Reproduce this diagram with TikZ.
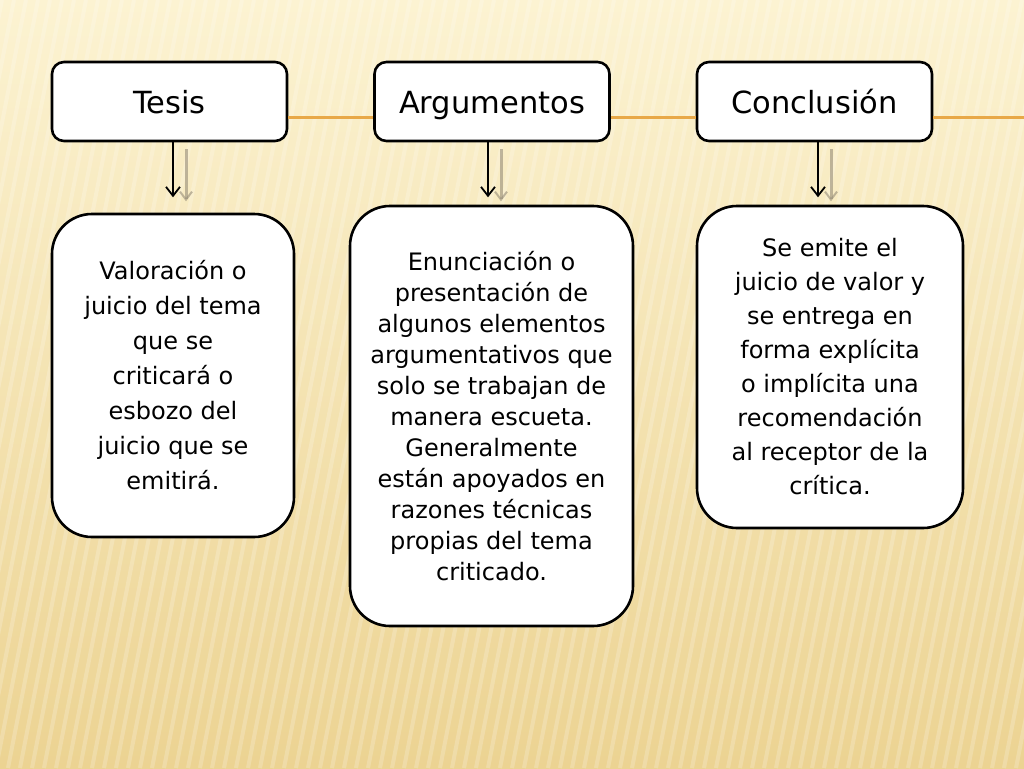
\documentclass[tikz,border=0pt]{standalone}
\usepackage{fontspec}
\setmainfont{DejaVu Sans}
\usetikzlibrary{arrows.meta}

\definecolor{paperTop}{RGB}{252,243,210}
\definecolor{paperBot}{RGB}{236,211,146}
\definecolor{ruleOrange}{RGB}{232,168,72}
\definecolor{shade}{RGB}{150,140,120}

\tikzset{
	head/.style={draw=black, line width=2.6pt, fill=white, rounded corners=12pt,
		minimum width=235pt, minimum height=79pt, inner sep=0pt,
		text height=28pt, text depth=4pt,
		font=\fontsize{30.5}{36}\selectfont},
	card/.style={draw=black, line width=2.6pt, fill=white, rounded corners=40pt,
		align=center, inner sep=0pt, font=\fontsize{24}{#1}\selectfont},
	card/.default=34,
	flow/.style={line width=1.8pt, -{Straight Barb[length=9pt,width=14pt,line width=1.8pt]}},
	ghost/.style={line width=3pt, draw=shade, opacity=0.6,
		-{Straight Barb[length=8pt,width=12pt,line width=2pt]}},
	stripe/.style={draw=white, line width=4pt, opacity=0.2},
	band/.style={draw=ruleOrange, line width=2.4pt}
}

\begin{document}
\begin{tikzpicture}[x=1pt,y=-1pt]
	\useasboundingbox (0,0) rectangle (1024,768);
	% background
	\fill[top color=paperTop, bottom color=paperBot] (0,0) rectangle (1024,768);
	\begin{scope}
		\clip (0,0) rectangle (1024,768);
		\foreach \x in {-160,-148,...,1030}
			\draw[stripe] (\x,768) -- (\x+150,0);
	\end{scope}

	% headings
	\node[head] at (169.5,101.5) (tesis) {Tesis};
	\node[head] at (492,101.5) (argum) {Argumentos};
	\node[head] at (814.5,101.5) (concl) {Conclusión};

	% orange rule
	\draw[band] ([yshift=-16pt]tesis.east) -- ([yshift=-16pt]argum.west);
	\draw[band] ([yshift=-16pt]argum.east) -- ([yshift=-16pt]concl.west);
	\coordinate (ruleEnd) at (1024,117.5);
	\draw[band] ([yshift=-16pt]concl.east) -- (ruleEnd);

	% cards
	\node[card=35, minimum width=242pt, minimum height=323pt] at (173,375.5) (valor)
		{Valoración o\\juicio del tema\\que se\\criticará o\\esbozo del\\juicio que se\\emitirá.};
	\node[card=31, minimum width=283pt, minimum height=420pt] at (491.5,416) (enun)
		{Enunciación o\\presentación de\\algunos elementos\\argumentativos que\\solo se trabajan de\\manera escueta.\\Generalmente\\están apoyados en\\razones técnicas\\propias del tema\\criticado.};
	\node[card=34, minimum width=266pt, minimum height=322pt] at (830,367) (emite)
		{Se emite el\\juicio de valor y\\se entrega en\\forma explícita\\o implícita una\\recomendación\\al receptor de la\\crítica.};

	% arrows
	\foreach \n/\dx in {tesis/3.5,argum/-4,concl/3.5}
	{
		\coordinate (\n-tip) at ([xshift=\dx pt,yshift=-55pt]\n.south);
		\coordinate (\n-gs) at ([xshift=\dx pt+13pt,yshift=-7pt]\n.south);
		\coordinate (\n-gt) at ([xshift=\dx pt+13pt,yshift=-59pt]\n.south);
		\draw[ghost] (\n-gs) -- (\n-gt);
		\draw[flow] (\n.south -| \n-tip) -- (\n-tip);
	}
\end{tikzpicture}
\end{document}
